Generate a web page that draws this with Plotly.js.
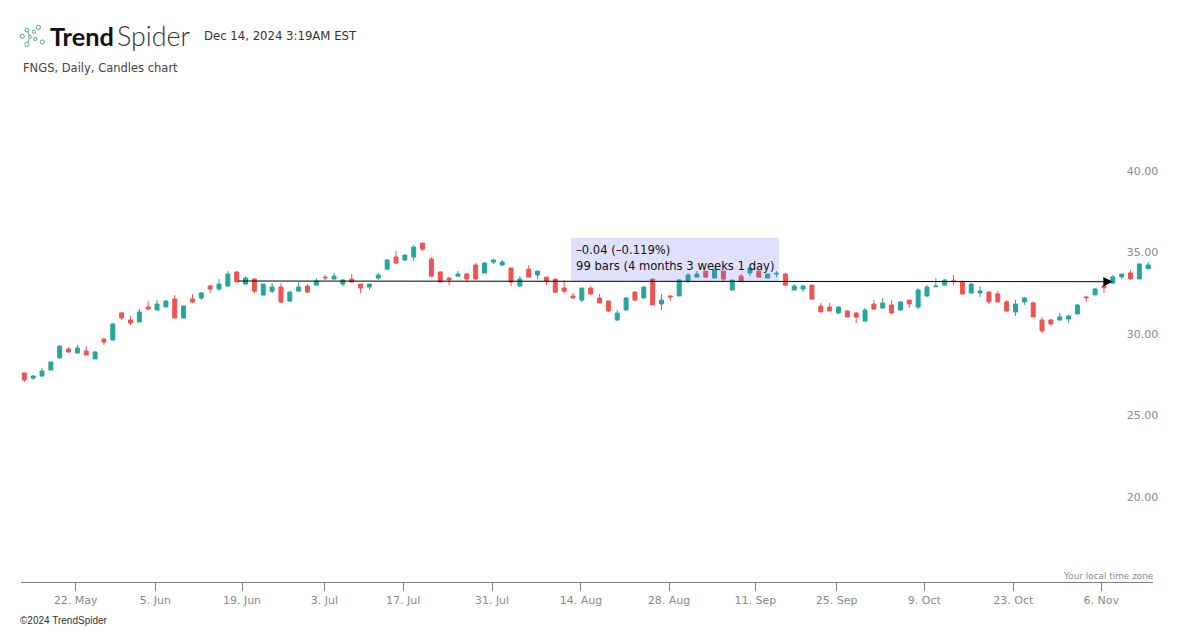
<!DOCTYPE html>
<html>
<head>
<meta charset="utf-8">
<script src="https://cdn.plot.ly/plotly-3.0.1.min.js"></script>
<style>
html,body{margin:0;padding:0;background:#fff;}
#chart{position:absolute;left:0;top:0;width:1183px;height:629px;}
#logo{position:absolute;left:15px;top:20px;z-index:5;}
</style>
</head>
<body>
<div id="chart"></div>
<svg id="logo" width="40" height="30" viewBox="15 20 40 30" fill="none" stroke="#56a795" stroke-width="1">
<path d="M27 30L30 36.7L27 44.3"/>
<g fill="#fff"><circle cx="27" cy="30" r="2"/><circle cx="38.3" cy="27.3" r="2.2"/><circle cx="34" cy="31.7" r="1.7"/><circle cx="22.3" cy="36.3" r="2.1"/><circle cx="30" cy="36.7" r="1.4"/><circle cx="35.3" cy="39" r="1.7"/><circle cx="42.3" cy="42" r="2.1"/><circle cx="27" cy="44.3" r="2.2"/></g>
</svg>
<script>
const open = [27.61,27.30,27.42,27.79,28.53,29.08,28.83,28.96,28.47,29.69,29.63,31.29,30.86,30.74,31.66,31.47,31.66,32.15,30.98,32.15,32.21,32.95,32.76,32.94,33.80,33.06,33.37,32.39,32.63,32.88,32.02,32.63,32.94,33.00,33.49,33.37,33.06,33.37,33.06,32.88,33.43,33.98,34.72,34.54,34.72,35.58,34.60,33.80,33.43,33.55,33.68,34.23,33.74,34.41,34.23,34.05,32.94,33.98,33.62,33.49,33.37,32.82,32.33,32.08,32.82,32.21,32.02,30.86,31.47,32.57,32.21,33.37,31.84,32.33,32.33,33.25,33.49,33.86,33.43,33.86,32.70,33.55,33.74,33.86,33.43,33.68,33.68,32.70,32.76,33.00,31.71,31.65,31.29,31.41,31.29,30.79,31.84,31.59,31.78,31.47,32.08,31.65,32.33,32.90,33.00,33.27,33.19,32.51,32.52,32.58,32.46,31.97,31.35,31.97,31.91,30.86,30.86,30.86,30.92,31.23,32.27,32.40,32.95,33.13,33.50,33.75,33.38,34.00];
const high = [27.61,27.49,27.91,28.28,29.26,29.20,29.33,29.26,28.96,29.75,30.67,31.35,31.10,31.53,32.02,32.09,32.09,32.39,31.72,32.45,32.58,33.01,33.37,33.86,33.86,33.55,33.43,33.06,33.12,33.12,32.63,33.19,33.06,33.43,33.62,33.74,33.37,33.68,33.06,33.06,33.74,34.60,35.09,34.90,35.46,35.58,34.72,33.86,33.49,33.86,33.74,34.35,34.41,34.60,34.54,34.05,33.55,34.23,33.86,33.49,33.37,33.31,32.51,32.82,32.94,32.45,32.02,31.47,32.27,32.63,32.94,33.37,32.45,32.37,33.37,33.74,33.86,33.86,33.98,33.86,33.31,33.68,34.05,33.86,33.68,33.86,33.74,33.06,33.00,33.00,31.90,31.90,31.71,31.47,31.35,31.59,32.08,32.21,32.08,32.02,32.08,32.82,33.00,33.43,33.37,33.62,33.31,33.12,32.95,32.58,32.64,32.09,32.09,32.27,31.97,31.05,30.92,31.29,31.17,31.84,32.33,32.83,33.01,33.62,33.68,33.93,34.30,34.42];
const low = [27.06,27.18,27.42,27.79,28.53,28.83,28.83,28.71,28.47,29.33,29.63,30.86,30.55,30.74,31.47,31.47,31.66,30.98,30.98,31.90,32.09,32.52,32.63,32.94,33.19,33.06,32.51,32.39,32.51,31.90,31.96,32.63,32.51,33.00,33.31,33.37,32.94,33.19,32.51,32.70,33.31,33.98,34.29,34.48,34.48,35.09,33.49,33.19,33.00,33.55,33.19,33.31,33.74,34.29,34.17,32.94,32.94,33.49,33.37,33.00,32.51,32.51,32.14,31.96,32.39,31.90,31.35,30.79,31.47,32.02,32.21,31.78,31.47,32.02,32.33,33.12,33.49,33.43,33.43,33.25,32.70,33.25,33.55,33.49,33.43,33.49,32.94,32.70,32.57,32.14,31.35,31.41,31.22,31.04,30.67,30.79,31.47,31.59,31.22,31.47,31.59,31.53,32.27,32.90,33.00,33.00,32.45,32.51,32.27,31.84,31.97,31.35,31.11,31.78,31.05,30.06,30.49,30.80,30.68,31.23,31.97,32.40,32.52,33.07,33.38,33.32,33.38,34.00];
const close = [27.18,27.42,27.73,28.28,29.26,28.90,29.14,28.71,28.90,29.51,30.61,30.98,30.67,31.35,31.53,31.84,32.02,30.98,31.72,31.96,32.52,32.76,33.06,33.68,33.19,33.43,32.63,33.06,32.88,31.96,32.57,32.88,32.57,33.25,33.45,33.55,33.31,33.19,32.82,33.06,33.62,34.54,34.35,34.84,35.33,35.21,33.55,33.19,33.31,33.68,33.37,33.37,34.35,34.54,34.41,33.19,33.37,33.49,33.86,33.25,32.57,32.63,32.21,32.82,32.45,31.90,31.41,31.28,32.21,32.08,32.88,31.78,32.08,32.27,33.31,33.62,33.68,33.49,33.98,33.37,33.31,33.25,34.05,33.49,33.68,33.72,33.00,32.94,32.94,32.14,31.35,31.41,31.65,31.04,31.04,31.47,31.53,31.90,31.29,31.96,31.84,32.70,32.88,32.94,33.31,33.23,32.45,33.06,32.64,31.97,31.97,31.41,31.84,32.21,31.05,30.19,30.62,31.05,31.11,31.78,32.23,32.76,32.83,33.50,33.68,33.38,34.30,34.24];
const barIndex = open.map((_, i) => i);
const xTickBars = [5.81,14.8,24.6,33.9,42.8,52.85,62.9,72.85,82.6,91.8,101.7,111.75,121.7];
const xTickLabels = ['22. May','5. Jun','19. Jun','3. Jul','17. Jul','31. Jul','14. Aug','28. Aug','11. Sep','25. Sep','9. Oct','23. Oct','6. Nov'];
const yTickValues = [20,25,30,35,40];
const yTickLabels = ['20.00','25.00','30.00','35.00','40.00'];
const measureStart = {bar:24, price:33.25};
const measureEnd = {bar:123, price:33.21};
const measureLines = ['–0.04 (–0.119%)','99 bars (4 months 3 weeks 1 day)'];

const UI = 'DejaVu Sans';
const GREY = '#8a8a8a';
function tx(text,x,y,size,color,family,weight,anchor){
  return {text:text,xref:'paper',yref:'paper',x:(x-21)/1132,y:(582-y)/482,xanchor:anchor||'left',yanchor:'middle',showarrow:false,
    font:{size:size,color:color,family:family||UI,weight:weight||400},borderpad:0,borderwidth:0,captureevents:false};
}
const annotations = [
  tx('Trend',50,36,25.3,'#111111','Lato',700),
  tx('Spider',117,36,26.8,'#333333','Lato',300),
  tx('Dec 14, 2024 3:19AM EST',204,36,11.7,'#333333'),
  tx('FNGS, Daily, Candles chart',23,68,11.5,'#444444'),
  tx('©2024 TrendSpider',20,620,10,'#333333','Liberation Sans'),
  tx('Your local time zone',1153,576,8.9,GREY,UI,400,'right'),
  tx(measureLines[0],576,250,11.6,'#111111'),
  tx(measureLines[1],576,266,11.6,'#111111'),
  {x:measureEnd.bar,y:measureEnd.price,ax:measureStart.bar,ay:measureStart.price,xref:'x',yref:'y',axref:'x',ayref:'y',text:'',showarrow:true,arrowhead:2,arrowsize:1.9,arrowwidth:1,arrowcolor:'#000000',standoff:0,startstandoff:0}
];
const layout = {
  width:1183,height:629,paper_bgcolor:'#fff',plot_bgcolor:'#fff',showlegend:false,dragmode:false,
  margin:{l:21,r:30,t:100,b:47,pad:0},boxgap:0.36,boxgroupgap:0.3,
  font:{family:UI,color:GREY,size:11},
  xaxis:{type:'linear',range:[-0.373,127.54],tickmode:'array',tickvals:xTickBars,ticktext:xTickLabels,showgrid:false,zeroline:false,
    showline:true,linecolor:'#808080',linewidth:1,ticks:'outside',ticklen:8,tickwidth:1,tickcolor:'#808080',
    tickfont:{size:11,color:GREY,family:UI},rangeslider:{visible:false},fixedrange:true},
  yaxis:{type:'linear',range:[14.785,44.356],tickmode:'array',tickvals:yTickValues,ticktext:yTickLabels,showgrid:false,zeroline:false,
    showline:false,ticks:'',side:'right',anchor:'free',position:0.976,tickfont:{size:11,color:GREY,family:UI},fixedrange:true},
  shapes:[{type:'rect',xref:'x',yref:'y',x0:61.77,x1:85.27,y0:measureStart.price,y1:35.89,fillcolor:'rgba(100,100,255,0.2)',line:{width:0},layer:'above'}],
  annotations:annotations
};
const trace = {type:'candlestick',x:barIndex,open:open,high:high,low:low,close:close,whiskerwidth:0,
  increasing:{line:{color:'#26a69a',width:1},fillcolor:'#26a69a'},
  decreasing:{line:{color:'#ef5350',width:1},fillcolor:'#ef5350'},hoverinfo:'skip'};
Plotly.newPlot('chart',[trace],layout,{displayModeBar:false,staticPlot:true});
</script>
</body>
</html>
